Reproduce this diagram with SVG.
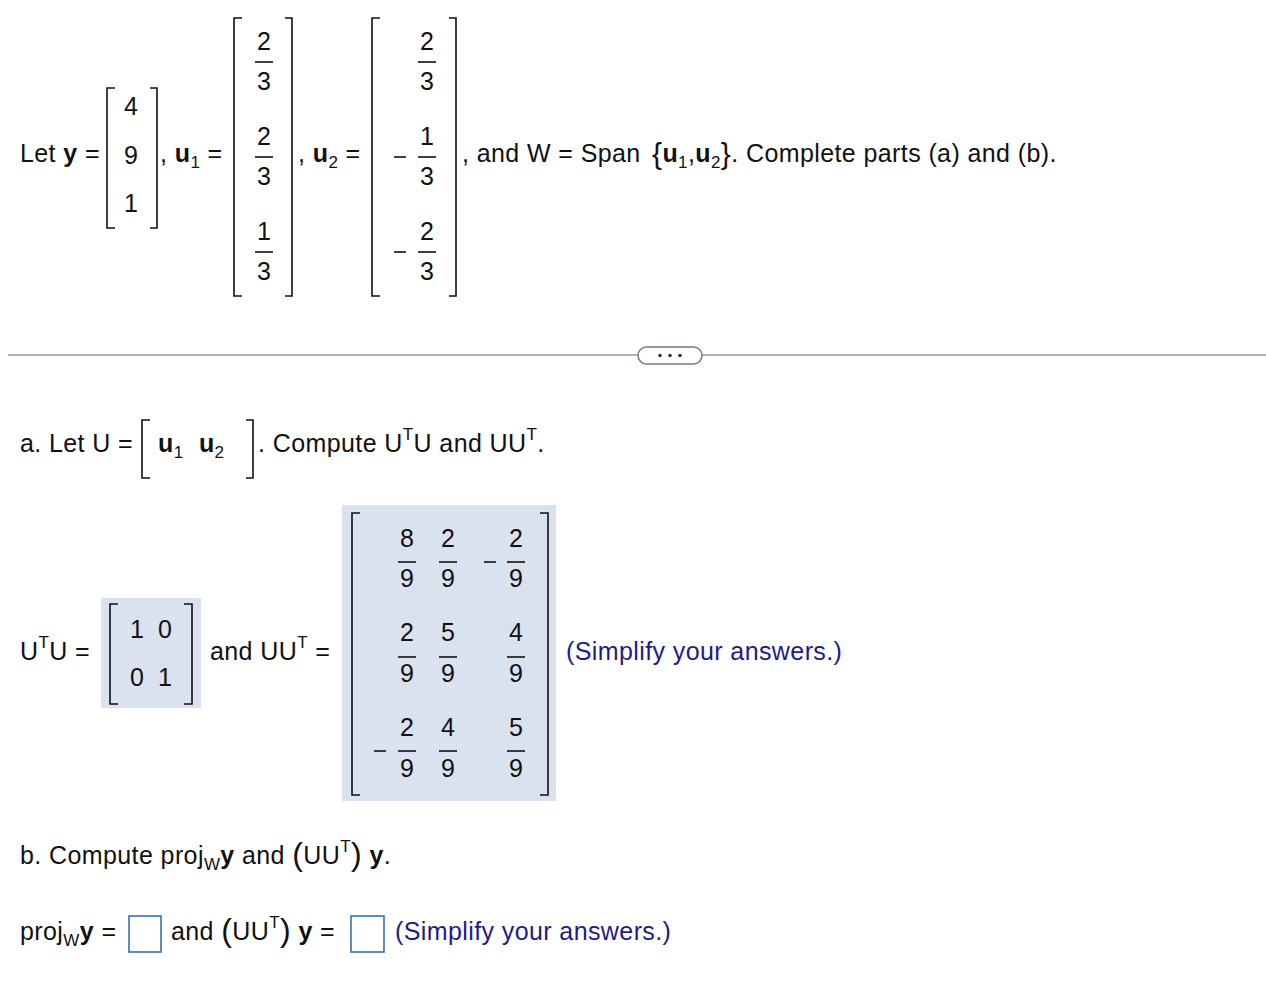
<svg xmlns="http://www.w3.org/2000/svg" width="1266" height="1006" viewBox="0 0 1266 1006">
<style>
text{font-family:"Liberation Sans",Arial,sans-serif;font-size:25px;letter-spacing:0.4px;fill:#111}
.b{font-weight:bold}
.s{font-size:17px}
.c{text-anchor:middle;letter-spacing:0}
.blue{fill:#1c1c8a}
.br{fill:none;stroke:#111;stroke-width:1.6}
.fl{stroke:#111;stroke-width:1.6}
.box{fill:#dbe2ef}
.ans{fill:#fff;stroke:#3a6fb0;stroke-width:1.6}
</style>
<rect width="1266" height="1006" fill="#fff"/>
<text x="20" y="162">Let <tspan class="b">y</tspan> =</text>
<path class="br" d="M115,88 H107 V228 H115 M150,88 H157 V228 H150"/>
<text x="131" y="115" class="c">4</text><text x="131" y="164" class="c">9</text><text x="131" y="212" class="c">1</text>
<text x="160" y="162">, <tspan class="b">u</tspan><tspan class="s" dy="6">1</tspan><tspan dy="-6"> =</tspan></text>
<path class="br" d="M242,18 H234 V296 H242 M285,18 H292 V296 H285"/>
<g>
<text x="264" y="50" class="c">2</text><line class="fl" x1="255" y1="62" x2="273" y2="62"/><text x="264" y="90" class="c">3</text>
<text x="264" y="145" class="c">2</text><line class="fl" x1="255" y1="157" x2="273" y2="157"/><text x="264" y="185" class="c">3</text>
<text x="264" y="240" class="c">1</text><line class="fl" x1="255" y1="252" x2="273" y2="252"/><text x="264" y="280" class="c">3</text>
</g>
<text x="298" y="162">, <tspan class="b">u</tspan><tspan class="s" dy="6">2</tspan><tspan dy="-6"> =</tspan></text>
<path class="br" d="M380,18 H372 V296 H380 M449,18 H456 V296 H449"/>
<g>
<text x="427" y="50" class="c">2</text><line class="fl" x1="418" y1="62" x2="436" y2="62"/><text x="427" y="90" class="c">3</text>
<line class="fl" x1="394" y1="157" x2="406" y2="157"/>
<text x="427" y="145" class="c">1</text><line class="fl" x1="418" y1="157" x2="436" y2="157"/><text x="427" y="185" class="c">3</text>
<line class="fl" x1="394" y1="252" x2="406" y2="252"/>
<text x="427" y="240" class="c">2</text><line class="fl" x1="418" y1="252" x2="436" y2="252"/><text x="427" y="280" class="c">3</text>
</g>
<text x="462" y="162">, and W = Span <tspan font-size="30" dy="2" dx="4">{</tspan><tspan class="b" dy="-2">u</tspan><tspan class="s" dy="6">1</tspan><tspan dy="-6">,</tspan><tspan class="b">u</tspan><tspan class="s" dy="6">2</tspan><tspan font-size="30" dy="-4">}</tspan><tspan dy="-2">. Complete parts (a) and (b).</tspan></text>
<line x1="8" y1="355" x2="1266" y2="355" stroke="#999" stroke-width="1.5"/>
<rect x="638" y="347" width="64" height="17" rx="8.5" fill="#fff" stroke="#6b7a90" stroke-width="1.5"/>
<circle cx="660" cy="355.5" r="1.8" fill="#333"/><circle cx="670" cy="355.5" r="1.8" fill="#333"/><circle cx="680" cy="355.5" r="1.8" fill="#333"/>
<text x="20" y="452">a. Let U =</text>
<path class="br" d="M150,420 H142 V478 H150 M246,420 H253 V478 H246"/>
<text x="158" y="452"><tspan class="b">u</tspan><tspan class="s" dy="6">1</tspan><tspan dy="-6">  </tspan><tspan class="b" dx="8">u</tspan><tspan class="s" dy="6">2</tspan></text>
<text x="258" y="452">. Compute U<tspan class="s" dy="-12">T</tspan><tspan dy="12">U and UU</tspan><tspan class="s" dy="-12">T</tspan><tspan dy="12">.</tspan></text>
<text x="20" y="660">U<tspan class="s" dy="-12">T</tspan><tspan dy="12">U =</tspan></text>
<rect class="box" x="101" y="598" width="100" height="110"/>
<path class="br" d="M118,604 H110 V704 H118 M184,604 H192 V704 H184"/>
<text x="137" y="638" class="c">1</text><text x="165" y="638" class="c">0</text>
<text x="137" y="686" class="c">0</text><text x="165" y="686" class="c">1</text>
<text x="210" y="660">and UU<tspan class="s" dy="-12">T</tspan><tspan dy="12"> =</tspan></text>
<rect class="box" x="342" y="505" width="214" height="296"/>
<path class="br" d="M360,513 H352 V795 H360 M540,513 H548 V795 H540"/>
<g>
<text x="407" y="547" class="c">8</text><line class="fl" x1="398" y1="562" x2="416" y2="562"/><text x="407" y="587" class="c">9</text>
<text x="448" y="547" class="c">2</text><line class="fl" x1="439" y1="562" x2="457" y2="562"/><text x="448" y="587" class="c">9</text>
<line class="fl" x1="484" y1="562" x2="496" y2="562"/>
<text x="516" y="547" class="c">2</text><line class="fl" x1="507" y1="562" x2="525" y2="562"/><text x="516" y="587" class="c">9</text>
<text x="407" y="641" class="c">2</text><line class="fl" x1="398" y1="657" x2="416" y2="657"/><text x="407" y="682" class="c">9</text>
<text x="448" y="641" class="c">5</text><line class="fl" x1="439" y1="657" x2="457" y2="657"/><text x="448" y="682" class="c">9</text>
<text x="516" y="641" class="c">4</text><line class="fl" x1="507" y1="657" x2="525" y2="657"/><text x="516" y="682" class="c">9</text>
<line class="fl" x1="374" y1="751" x2="386" y2="751"/>
<text x="407" y="736" class="c">2</text><line class="fl" x1="398" y1="751" x2="416" y2="751"/><text x="407" y="777" class="c">9</text>
<text x="448" y="736" class="c">4</text><line class="fl" x1="439" y1="751" x2="457" y2="751"/><text x="448" y="777" class="c">9</text>
<text x="516" y="736" class="c">5</text><line class="fl" x1="507" y1="751" x2="525" y2="751"/><text x="516" y="777" class="c">9</text>
</g>
<text x="566" y="660" class="blue">(Simplify your answers.)</text>
<text x="20" y="864">b. Compute proj<tspan class="s" dy="6">W</tspan><tspan class="b" dy="-6">y</tspan> and <tspan font-size="32" dy="1">(</tspan><tspan dy="-1">UU</tspan><tspan class="s" dy="-12">T</tspan><tspan font-size="32" dy="13">)</tspan><tspan class="b" dy="-1"> y</tspan>.</text>
<text x="20" y="940">proj<tspan class="s" dy="6">W</tspan><tspan class="b" dy="-6">y</tspan> =</text>
<rect class="ans" x="129" y="916" width="32" height="36"/>
<text x="171" y="940">and <tspan font-size="32" dy="1">(</tspan><tspan dy="-1">UU</tspan><tspan class="s" dy="-12">T</tspan><tspan font-size="32" dy="13">)</tspan><tspan class="b" dy="-1"> y</tspan> =</text>
<rect class="ans" x="351" y="916" width="33" height="36"/>
<text x="395" y="940" class="blue">(Simplify your answers.)</text>
</svg>
